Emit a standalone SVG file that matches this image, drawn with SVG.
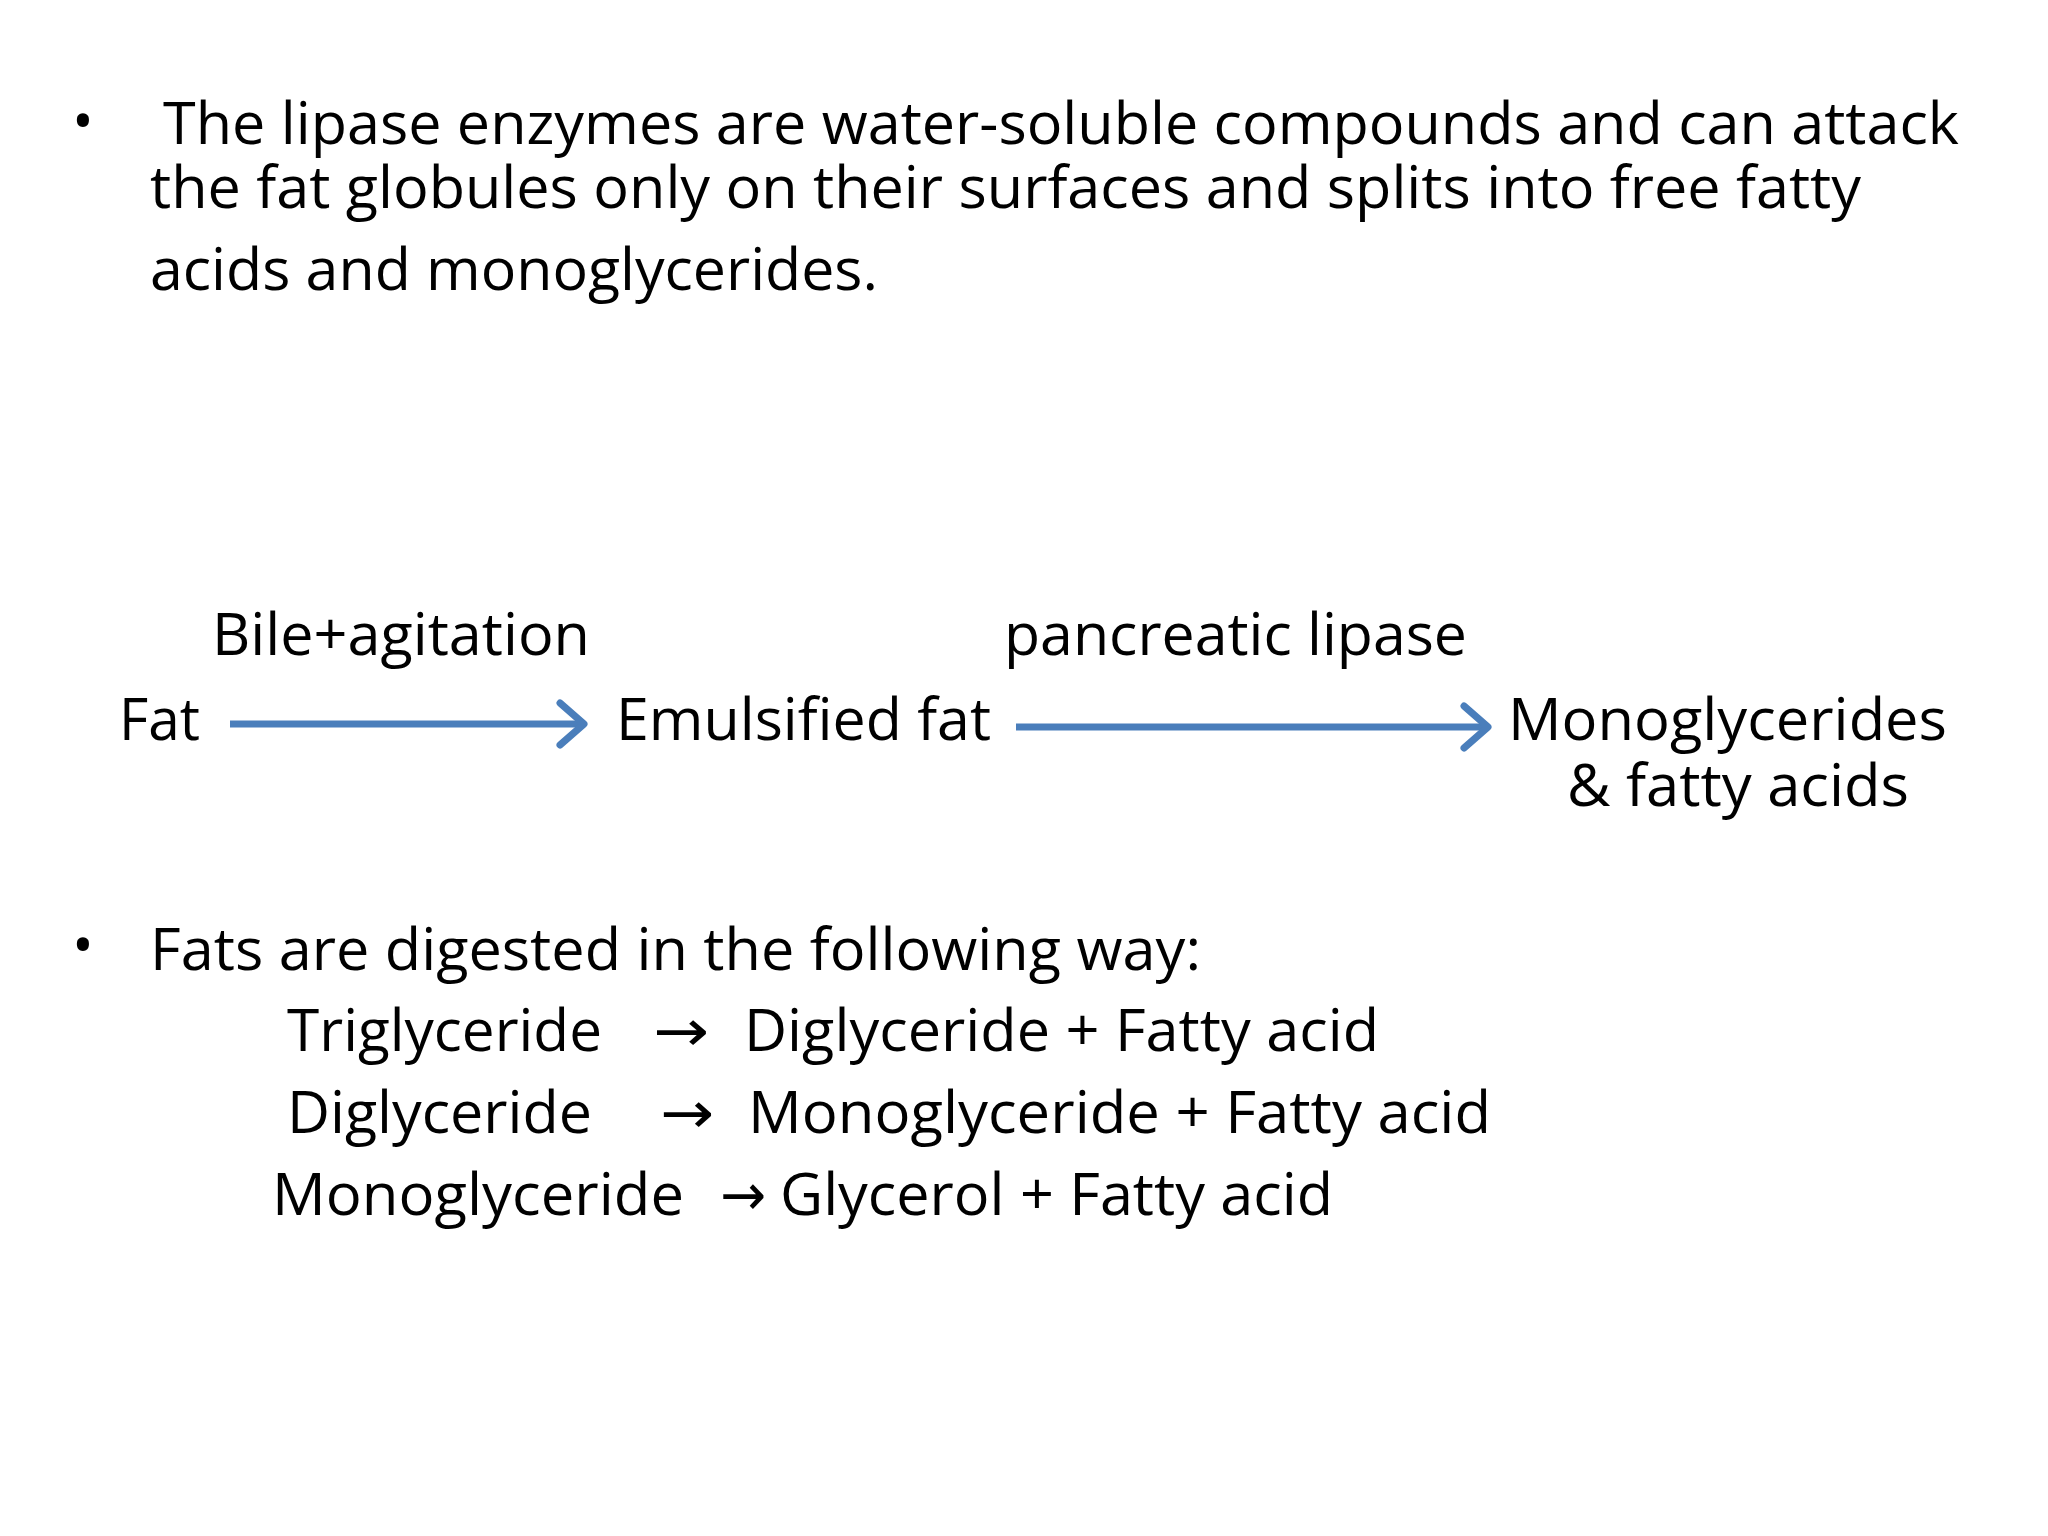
<svg xmlns="http://www.w3.org/2000/svg" width="2048" height="1536" viewBox="0 0 2048 1536">
<style>
text{font-family:"Open Sans","Liberation Sans",sans-serif;font-size:58px;fill:#000}
.c{stroke:#4a7ebb;stroke-width:7;fill:none}
.ar{font-family:"DejaVu Sans",sans-serif;font-size:58px}
</style>
<defs><marker id="ah" markerWidth="40" markerHeight="50" refX="34" refY="25" orient="auto" markerUnits="userSpaceOnUse" viewBox="0 0 40 50"><path d="M10,4 L34,25 L10,46" fill="none" stroke="#4a7ebb" stroke-width="7" stroke-linecap="round" stroke-linejoin="round"/></marker></defs>
<rect width="2048" height="1536" fill="#fff"/>
<g id="para1">
<text x="72" y="142">•</text>
<text x="163" y="144" textLength="1796" lengthAdjust="spacingAndGlyphs">The lipase enzymes are water-soluble compounds and can attack</text>
<text x="150" y="208" textLength="1711" lengthAdjust="spacingAndGlyphs">the fat globules only on their surfaces and splits into free fatty</text>
<text x="150" y="290" textLength="728" lengthAdjust="spacingAndGlyphs">acids and monoglycerides.</text>
</g>
<g id="fat"><text x="119" y="740" textLength="81" lengthAdjust="spacingAndGlyphs">Fat</text></g>
<g id="emulsified"><text x="616" y="740" textLength="375" lengthAdjust="spacingAndGlyphs">Emulsified fat</text></g>
<g id="mono"><text x="1508" y="740" textLength="439" lengthAdjust="spacingAndGlyphs">Monoglycerides</text>
<text x="1567" y="806" textLength="342" lengthAdjust="spacingAndGlyphs">&amp; fatty acids</text></g>
<g id="connectors">
<line class="c" x1="230" y1="724" x2="584" y2="724" marker-end="url(#ah)"/>
<line class="c" x1="1016" y1="727" x2="1488" y2="727" marker-end="url(#ah)"/>
<text x="212" y="655" textLength="378" lengthAdjust="spacingAndGlyphs">Bile+agitation</text>
<text x="1004" y="655" textLength="463" lengthAdjust="spacingAndGlyphs">pancreatic lipase</text>
</g>
<g id="para2">
<text x="72" y="966">•</text>
<text x="150" y="970" textLength="1051" lengthAdjust="spacingAndGlyphs">Fats are digested in the following way:</text>
<text x="287" y="1051" textLength="315" lengthAdjust="spacingAndGlyphs">Triglyceride</text>
<text class="ar" x="653" y="1051" textLength="56" lengthAdjust="spacingAndGlyphs">→</text>
<text x="744" y="1051" textLength="635" lengthAdjust="spacingAndGlyphs">Diglyceride + Fatty acid</text>
<text x="287" y="1133" textLength="305" lengthAdjust="spacingAndGlyphs">Diglyceride</text>
<text class="ar" x="660" y="1133" textLength="54" lengthAdjust="spacingAndGlyphs">→</text>
<text x="748" y="1133" textLength="743" lengthAdjust="spacingAndGlyphs">Monoglyceride + Fatty acid</text>
<text x="272" y="1215" textLength="412" lengthAdjust="spacingAndGlyphs">Monoglyceride</text>
<text class="ar" x="720" y="1215" textLength="46" lengthAdjust="spacingAndGlyphs">→</text>
<text x="780" y="1215" textLength="553" lengthAdjust="spacingAndGlyphs">Glycerol + Fatty acid</text>
</g>
</svg>
